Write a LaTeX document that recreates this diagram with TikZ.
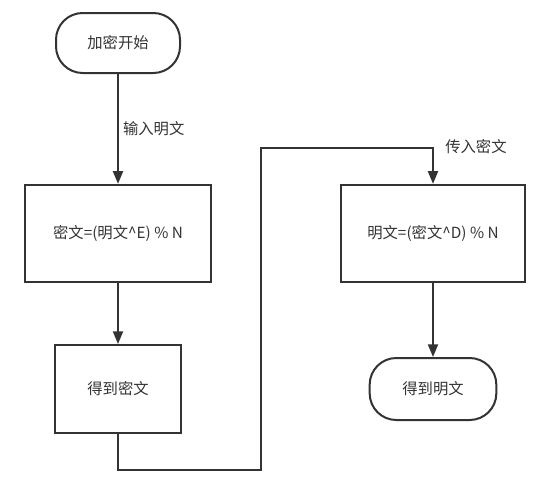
\documentclass[tikz,border=0pt]{standalone}
\usepackage{fontspec}
\setmainfont{Noto Sans CJK SC}
\usetikzlibrary{arrows.meta}
\begin{document}
\begin{tikzpicture}[x=0.75pt,y=-0.75pt,
  line/.style={draw=black!80, line width=1.5pt},
  arr/.style={line, -{Triangle[length=9.5pt,width=7.5pt]}},
  procbox/.style={line, fill=white, rectangle, inner sep=0pt, font=\fontsize{11.5}{13}\selectfont, text=black!80},
  term/.style={procbox, rounded corners=20pt},
  lbl/.style={font=\fontsize{11.5}{13}\selectfont, text=black!80, inner sep=0pt}]
\useasboundingbox (0,0) rectangle (554,479);
\node[term, minimum width=93pt, minimum height=45pt] (start) at (118,43) {加密开始};
\node[procbox, minimum width=139pt, minimum height=73pt] (enc) at (118,233.5) {密文=(明文\textasciicircum E) \% N};
\node[procbox, minimum width=94pt, minimum height=66pt] (got) at (118,389) {得到密文};
\node[procbox, minimum width=138pt, minimum height=73pt] (dec) at (433,233.5) {明文=(密文\textasciicircum D) \% N};
\node[term, minimum width=95pt, minimum height=46.5pt] (end) at (433,389) {得到明文};
\coordinate (c1) at (118,470);
\coordinate (c2) at (261,470);
\coordinate (c3) at (261,148);
\coordinate (c4) at (433,148);
\draw[arr] (start) -- node[lbl, right=3pt, pos=0.5] (l1) {输入明文} (enc);
\draw[arr] (enc) -- (got);
\draw[arr] (got.south) -- (c1) -- (c2) -- (c3) -- (c4) -- (dec.north);
\node[lbl, anchor=west] (l2) at (445,147) {传入密文};
\draw[arr] (dec) -- (end);
\end{tikzpicture}
\end{document}
